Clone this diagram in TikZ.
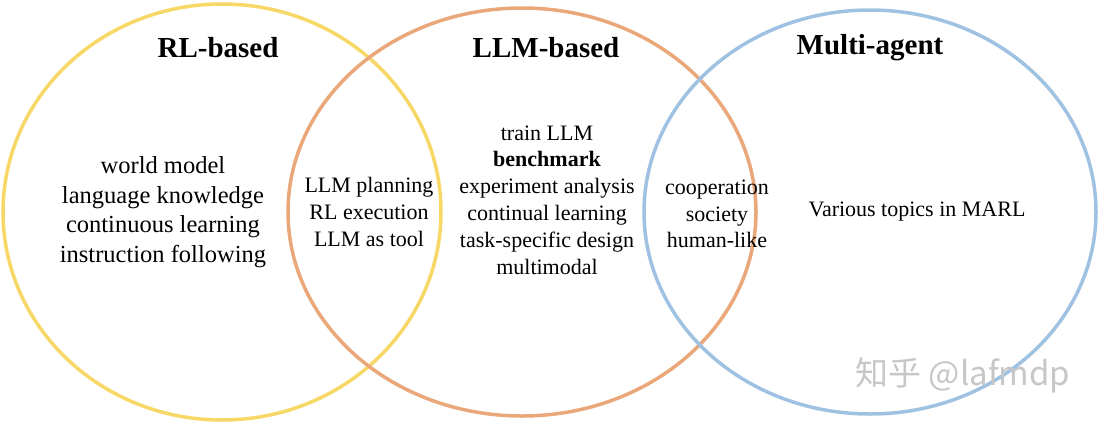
\documentclass[tikz,border=0pt]{standalone}
\usepackage{fontspec}
\setmainfont{Liberation Serif}
\newfontfamily\cjk{Noto Sans CJK SC}
\definecolor{cy}{RGB}{247,216,102}
\definecolor{co}{RGB}{234,168,122}
\definecolor{cb}{RGB}{160,194,226}
\begin{document}
\begin{tikzpicture}[x=1pt,y=-1pt,
  ring/.style={line width=3.5pt},
  ttl/.style={font=\fontsize{29}{32}\selectfont\bfseries},
  big/.style={align=center,font=\fontsize{24.5}{29.5}\selectfont},
  mid/.style={align=center,font=\fontsize{22}{26.8}\selectfont}]
\useasboundingbox[fill=white] (0,0) rectangle (1101,424);
\draw[ring,cy] (222,212) ellipse [x radius=219,y radius=208];
\draw[ring,co] (522,212) ellipse [x radius=234,y radius=204];
\draw[ring,cb] (870,212) ellipse [x radius=226,y radius=202];
\node[ttl] (t1) at (218,48) {RL-based};
\node[ttl] (t2) at (546,48) {LLM-based};
\node[ttl] (t3) at (870,48) {Multi-agent};
\node[big] (a) at (163,212) {world model\\language knowledge\\continuous learning\\instruction following};
\node[mid] (b) at (369,212) {LLM planning\\RL execution\\LLM as tool};
\node[mid] (c) at (547,200) {train LLM\\\textbf{benchmark}\\experiment analysis\\continual learning\\task-specific design\\multimodal};
\node[mid] (d) at (717,214) {cooperation\\society\\human-like};
\node[mid] (e) at (917,212) {Various topics in MARL};
\node[font=\cjk\fontsize{33}{36}\selectfont,text=black!22] (w) at (963,375) {知乎 @lafmdp};
\end{tikzpicture}
\end{document}
